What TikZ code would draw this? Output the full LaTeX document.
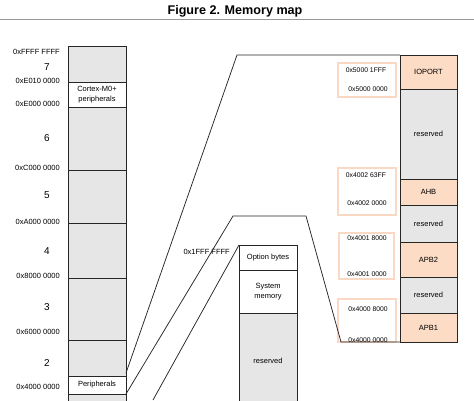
\documentclass[tikz,border=0pt]{standalone}
\usepackage{fontspec}
\setmainfont{Liberation Sans}
\usetikzlibrary{positioning}
\definecolor{memgray}{HTML}{E6E6E6}
\definecolor{peach}{HTML}{FCDCC5}
\definecolor{peachline}{HTML}{F9D9C4}
\begin{document}
\begin{tikzpicture}[
        x=1pt, y=-1pt,
        block/.style={rectangle, draw=black!85, line width=0.8pt, outer sep=0pt, inner sep=1pt, minimum width=58pt, align=center, font=\fontsize{7.5}{9.5}\selectfont},
        grayblock/.style={block, fill=memgray},
        whiteblock/.style={block, fill=white},
        busblock/.style={block, fill=peach, minimum width=57pt},
        addrbox/.style={rectangle, draw=peachline, line width=2.8pt, fill=white, anchor=north west, outer sep=0pt},
        addr/.style={font=\fontsize{7.5}{9}\selectfont, inner sep=0pt},
        smalladdr/.style={font=\fontsize{6.8}{8}\selectfont, inner sep=0pt},
        region/.style={font=\fontsize{10}{12}\selectfont, inner sep=0pt},
        link/.style={draw=black!85, line width=0.75pt}
    ]
        \useasboundingbox (0,0) rectangle (474,400);

        % Title
        \node[font=\bfseries\fontsize{12.6}{14}\selectfont] (title) at (235,11) {Figure 2. Memory map};
        \coordinate (rulel) at (0,19);
        \coordinate (ruler) at (474,19);
        \draw[gray!80, line width=1pt] (rulel) -- (ruler);

        % Full address space
        \node[grayblock, minimum height=36pt, anchor=north west] (r7) at (68,46) {};
        \node[whiteblock, minimum height=25pt, below=0pt of r7] (cortex) {Cortex-M0+\\peripherals};
        \node[grayblock, minimum height=63pt, below=0pt of cortex] (r6) {};
        \node[grayblock, minimum height=53pt, below=0pt of r6] (r5) {};
        \node[grayblock, minimum height=55pt, below=0pt of r5] (r4) {};
        \node[grayblock, minimum height=62pt, below=0pt of r4] (r3) {};
        \node[grayblock, minimum height=36pt, below=0pt of r3] (r2) {};
        \node[whiteblock, minimum height=18pt, below=0pt of r2] (periph) {Peripherals};
        \node[grayblock, minimum height=16pt, below=0pt of periph] (r1) {};

        \foreach \y/\t [count=\i] in {52/0xFFFF FFFF, 81/0xE010 0000, 104/0xE000 0000, 168/0xC000 0000, 222/0xA000 0000, 276/0x8000 0000, 332/0x6000 0000, 387/0x4000 0000}
            \node[addr, anchor=east] (la\i) at (60,\y) {\t};
        \foreach \y/\d in {67/7, 138/6, 195/5, 251/4, 307/3, 363/2}
            \node[region] (n\d) at (47,\y) {\d};

        % Code area
        \node[whiteblock, minimum height=25pt, anchor=north west] (optb) at (239,245) {Option bytes};
        \node[whiteblock, minimum height=43pt, below=0pt of optb] (sysmem) {System\\memory};
        \node[grayblock, minimum height=95pt, below=0pt of sysmem] (flashres) {reserved};
        \node[addr, anchor=east] (a1fff) at (230,252) {0x1FFF FFFF};

        % Peripheral buses
        \node[busblock, minimum height=34pt, anchor=north west] (ioport) at (400,55) {IOPORT};
        \node[grayblock, minimum width=57pt, minimum height=90pt, below=0pt of ioport] (res1) {reserved};
        \node[busblock, minimum height=26pt, below=0pt of res1] (ahb) {AHB};
        \node[grayblock, minimum width=57pt, minimum height=37pt, below=0pt of ahb] (res2) {reserved};
        \node[busblock, minimum height=35pt, below=0pt of res2] (apb2) {APB2};
        \node[grayblock, minimum width=57pt, minimum height=36pt, below=0pt of apb2] (res3) {reserved};
        \node[busblock, minimum height=29pt, below=0pt of res3] (apb1) {APB1};

        % Bus addresses
        \node[addrbox, minimum width=58pt, minimum height=34pt] (ioaddr) at (338,63) {};
        \node[addrbox, minimum width=58pt, minimum height=47pt] (ahbaddr) at (338,168) {};
        \node[addrbox, minimum width=55pt, minimum height=46pt] (apb2addr) at (339,233) {};
        \node[addrbox, minimum width=58pt, minimum height=43pt] (apb1addr) at (338,299) {};
        \node[smalladdr] (io1) at (366,70) {0x5000 1FFF};
        \node[smalladdr] (io0) at (368,89) {0x5000 0000};
        \node[smalladdr] (ahb1) at (366,175) {0x4002 63FF};
        \node[smalladdr] (ahb0) at (367,203) {0x4002 0000};
        \node[smalladdr] (apbb1) at (367,238) {0x4001 8000};
        \node[smalladdr] (apbb0) at (367,274) {0x4001 0000};
        \node[smalladdr] (apba1) at (368,309) {0x4000 8000};
        \node[smalladdr] (apba0) at (368,340) {0x4000 0000};

        % Zoom lines
        \coordinate (kneeA) at (237,55);
        \coordinate (kneeB) at (233,216);
        \coordinate (kneeC) at (306,216);
        \coordinate (kneeD) at (341,342);
        \coordinate (flashend) at (153,400);
        \draw[link] ([yshift=3pt]periph.north east) -- (kneeA) -- (ioport.north west);
        \draw[link] (periph.south east) -- (kneeB) -- (kneeC) -- (kneeD) -- (apb1.south west);
        \draw[link] (optb.north west) -- (flashend);
    \end{tikzpicture}
\end{document}
